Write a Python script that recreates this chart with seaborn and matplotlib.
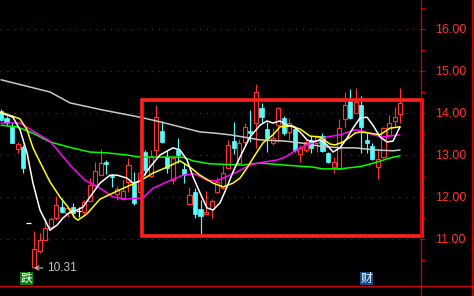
import numpy as np
import pandas as pd
import matplotlib
matplotlib.use("Agg")
import matplotlib.pyplot as plt
import matplotlib.transforms as mtransforms
from matplotlib.lines import Line2D
from matplotlib.patches import Rectangle
import seaborn as sns

# ---------------- data ----------------
opens = [14.05, 13.88, 13.67, 13.14, 13.19, 11.38, 10.33, 10.71, 10.98, 11.29,
         11.50, 11.76, 11.62, 11.76, 11.67, 11.64, 11.90, 12.29, 12.52, 12.83,
         12.50, 12.07, 11.95, 12.36, 12.33, 12.12, 13.07, 12.50, 13.12, 13.57,
         12.95, 12.40, 13.12, 12.67, 11.83, 12.12, 11.71, 11.60, 11.71, 12.12,
         12.21, 12.69, 13.33, 12.81, 13.31, 13.57, 13.76, 14.12, 13.62, 13.29,
         13.71, 13.88, 13.55, 13.62, 13.02, 13.12, 13.36, 13.29, 13.45, 13.05,
         12.71, 12.67, 13.86, 14.29, 14.00, 14.19, 13.36, 13.21, 12.71, 12.95,
         13.48, 13.81, 13.98]
highs = [14.10, 13.93, 13.79, 13.31, 13.24, 11.38, 11.19, 11.14, 11.50, 11.52,
         12.02, 11.98, 11.79, 11.86, 11.76, 11.93, 12.45, 12.83, 13.14, 12.88,
         12.55, 12.26, 12.43, 12.93, 12.60, 12.64, 13.12, 13.12, 14.19, 13.81,
         13.12, 12.95, 13.40, 12.81, 12.24, 12.21, 11.93, 12.14, 11.95, 12.48,
         12.76, 13.36, 13.79, 13.38, 13.76, 14.07, 14.69, 14.24, 13.79, 13.64,
         14.14, 13.93, 13.88, 13.69, 13.24, 13.38, 13.45, 13.48, 13.52, 13.07,
         12.95, 13.86, 14.50, 14.57, 14.60, 14.40, 13.52, 13.29, 13.12, 13.67,
         13.95, 14.14, 14.60]
lows = [13.81, 13.69, 13.29, 13.05, 12.57, 11.38, 10.31, 10.67, 10.98, 11.24,
        11.45, 11.62, 11.52, 11.52, 11.52, 11.55, 11.90, 12.24, 12.52, 12.55,
        12.24, 11.93, 11.93, 12.12, 11.81, 12.10, 12.52, 12.48, 12.95, 13.29,
        12.57, 12.31, 12.81, 12.33, 11.81, 11.50, 11.12, 11.60, 11.50, 12.10,
        12.19, 12.67, 13.02, 12.76, 13.24, 13.31, 13.17, 13.76, 13.07, 13.24,
        13.31, 13.48, 13.36, 13.07, 12.83, 13.07, 13.05, 13.07, 13.07, 12.81,
        12.57, 12.67, 13.67, 13.86, 14.00, 13.05, 13.05, 12.88, 12.43, 12.93,
        13.45, 13.67, 13.76]
closes = [13.83, 13.76, 13.29, 13.26, 12.69, 11.38, 10.76, 10.98, 11.26, 11.48,
          11.81, 11.64, 11.74, 11.62, 11.67, 11.88, 12.29, 12.62, 12.81, 12.79,
          12.48, 12.19, 12.14, 12.76, 11.86, 12.57, 12.64, 12.95, 13.90, 13.31,
          12.69, 12.93, 13.00, 12.52, 12.05, 11.60, 11.55, 11.64, 11.90, 12.36,
          12.57, 13.24, 13.17, 13.29, 13.67, 13.52, 14.50, 13.90, 13.40, 13.40,
          14.12, 13.52, 13.76, 13.12, 13.17, 13.31, 13.17, 13.43, 13.10, 12.83,
          12.83, 13.64, 14.19, 13.88, 14.26, 13.67, 13.29, 12.90, 12.90, 13.64,
          13.76, 13.90, 14.24]

# moving-average lines: positions in candle-index units and values
ma5_x = [0, 2.16, 3.43, 4.69, 5.77, 7.04, 8.84, 10.10, 11.19, 12.45, 13.71, 14.79,
         16.06, 17.86, 19.66, 20.93, 22.73, 23.81, 25.08, 26.88, 28.68, 31.03,
         32.29, 33.56, 34.64, 35.90, 37.16, 38.25, 39.51, 40.77, 41.86, 43.12,
         44.92, 46.73, 47.99, 49.07, 50.33, 51.60, 52.68, 53.94, 55.20, 56.29,
         57.55, 58.81, 59.90, 61.16, 62.42, 63.50, 64.77, 66.03, 67.11, 68.37,
         69.64, 70.72, 71.98]
ma5_y = [14.00, 13.90, 13.60, 13.05, 12.33, 11.69, 11.21, 11.33, 11.50, 11.64, 11.69,
         11.76, 12.00, 12.33, 12.52, 12.52, 12.45, 12.33, 12.38, 12.71, 13.00, 13.17,
         13.12, 12.88, 12.48, 12.10, 11.74, 11.69, 11.86, 12.24, 12.60, 12.95, 13.43,
         13.71, 13.81, 13.76, 13.81, 13.71, 13.69, 13.55, 13.36, 13.31, 13.36, 13.24,
         13.07, 13.17, 13.40, 13.64, 13.88, 13.90, 13.71, 13.43, 13.31, 13.33, 13.67]

ma10_x = [0, 3.43, 4.69, 5.77, 7.04, 8.84, 10.64, 11.91, 13.35, 13.89, 15.52, 17.86,
          20.93, 23.81, 25.08, 27.42, 29.95, 32.29, 34.10, 35.90, 38.25, 40.05,
          41.86, 43.12, 44.38, 45.82, 47.27, 49.07, 50.33, 52.14, 53.94, 55.75,
          57.55, 59.35, 60.26, 61.70, 63.00, 63.86, 64.77, 66.57, 68.37, 70.18, 71.98]
ma10_y = [14.02, 13.86, 13.60, 13.17, 12.83, 12.36, 12.00, 11.79, 11.50, 11.45, 11.60,
          11.95, 12.14, 12.31, 12.38, 12.57, 12.71, 12.86, 12.71, 12.52, 12.33, 12.24,
          12.33, 12.45, 12.69, 13.00, 13.29, 13.48, 13.67, 13.69, 13.62, 13.45, 13.43,
          13.26, 13.24, 13.31, 13.43, 13.52, 13.55, 13.52, 13.48, 13.64, 13.67]

ma20_x = [0, 3.43, 5.40, 8.84, 12.45, 15.15, 17.86, 20.20, 22.73, 25.62, 27.42, 29.95,
          32.83, 35.00, 37.16, 38.80, 40.05, 42.60, 44.92, 47.27, 49.79, 51.24, 53.94,
          56.29, 58.81, 61.16, 63.86, 65.30, 67.11, 68.90, 71.98]
ma20_y = [13.76, 13.76, 13.60, 13.33, 12.76, 12.40, 12.21, 12.00, 11.95, 11.98, 12.21,
          12.36, 12.52, 12.55, 12.40, 12.38, 12.45, 12.60, 12.76, 12.83, 12.88, 12.95,
          13.17, 13.29, 13.43, 13.48, 13.60, 13.57, 13.48, 13.43, 13.48]

ma60_x = [0, 2.89, 5.77, 8.84, 12.81, 16.06, 19.12, 22.73, 25.08, 32.83, 34.64, 37.71,
          43.66, 46.73, 51.24, 56.29, 58.09, 61.16, 63.86, 65.31, 67.83, 70.18, 71.98]
ma60_y = [13.71, 13.67, 13.52, 13.31, 13.17, 13.07, 13.05, 13.00, 12.95, 12.95, 12.86,
          12.79, 12.76, 12.81, 12.76, 12.71, 12.67, 12.67, 12.71, 12.74, 12.83, 12.93, 12.98]

ma250_x = [0, 8.84, 12.45, 18.40, 25.08, 28.68, 32.29, 35.90, 38.61, 41.31, 43.66,
           46.73, 51.24, 53.94, 57.55, 61.16, 63.86, 67.47, 70.72, 71.98]
ma250_y = [14.79, 14.50, 14.24, 14.07, 13.90, 13.79, 13.67, 13.55, 13.52, 13.48, 13.43,
           13.36, 13.33, 13.29, 13.21, 13.17, 13.17, 13.12, 13.10, 13.12]

price_ticks = [11, 12, 13, 14, 15, 16]
minor_ticks = [10.5, 11.5, 12.5, 13.5, 14.5, 15.5, 16.5]
tick_labels = ["11.00", "12.00", "13.00", "14.00", "15.00", "16.00"]

box_x = [25.35, 76.04]          # highlighted range (index units)
box_y = [11.083, 14.32]         # highlighted range (price)

event_labels = ["跌", "财"]
event_pos = [4.6, 65.9]
event_colors = ["#0b7d0b", "#124c88"]

# ---------------- style ----------------
sns.set_theme(style="dark", rc={"axes.facecolor": "black", "figure.facecolor": "black"})
plt.rcParams['font.family'] = ['Liberation Sans', 'Noto Sans CJK SC', 'DejaVu Sans']

W, H = 474, 296
fig = plt.figure(figsize=(W / 100, H / 100), dpi=100, facecolor="black")
ax = fig.add_axes([0, 10 / H, 421 / W, 286 / H])
ax.set_facecolor("black")
ax.set_xlim(-0.18, 75.77)
ax.set_ylim(9.881, 16.690)
for s in ax.spines.values():
    s.set_visible(False)
ax.grid(False)

RED = "#ff3232"
CYAN = "#54fcfc"

# dotted grid lines
for t in price_ticks:
    ax.axhline(t, color="#b00000", lw=0.9, ls=(0, (1, 4.5)), zorder=1)

# candles
idx = np.arange(len(opens))
bw = 0.74
for i in idx:
    o, h, l, c = opens[i], highs[i], lows[i], closes[i]
    top, bot = max(o, c), min(o, c)
    if c > o:
        ax.vlines(i, top, h, color=RED, lw=0.85, zorder=2)
        ax.vlines(i, l, bot, color=RED, lw=0.85, zorder=2)
        ax.add_patch(Rectangle((i - bw / 2, bot), bw, top - bot, facecolor="black",
                               edgecolor=RED, lw=0.85, zorder=2))
    elif c < o:
        ax.vlines(i, l, h, color=CYAN, lw=0.85, zorder=2)
        ax.add_patch(Rectangle((i - bw / 2, bot), bw, top - bot, facecolor=CYAN,
                               edgecolor=CYAN, lw=0.5, zorder=2))
    else:
        ax.vlines(i, l, h, color="white", lw=0.85, zorder=2)
        ax.hlines(o, i - bw / 2 - 0.1, i + bw / 2 + 0.1, color="white", lw=0.9, zorder=2)

# moving averages via seaborn
frames = []
for name, xs, ys in [("MA250", ma250_x, ma250_y), ("MA60", ma60_x, ma60_y),
                     ("MA20", ma20_x, ma20_y), ("MA10", ma10_x, ma10_y),
                     ("MA5", ma5_x, ma5_y)]:
    frames.append(pd.DataFrame({"idx": xs, "price": ys, "line": name}))
df = pd.concat(frames, ignore_index=True)
palette = {"MA250": "#c8c8c8", "MA60": "#00ff00", "MA20": "#ff00ff",
           "MA10": "#ffff00", "MA5": "#ffffff"}
sns.lineplot(data=df, x="idx", y="price", hue="line", palette=palette,
             estimator=None, sort=True, legend=False, lw=1.1, ax=ax, zorder=3)
ax.set_xlabel("")
ax.set_ylabel("")

# highlight box
ax.add_patch(Rectangle((box_x[0], box_y[0]), box_x[1] - box_x[0], box_y[1] - box_y[0],
                       fill=False, edgecolor="#ff2020", lw=2.6, zorder=5, clip_on=False))

# lowest price annotation
li = int(np.argmin(lows))
ax.annotate(f"{lows[li]:.2f}", xy=(li, lows[li]), xytext=(9.5, 0),
            textcoords="offset points", ha="left", va="center", color="#c4c4c4",
            fontsize=8.6, zorder=6,
            arrowprops=dict(arrowstyle="->,head_length=0.3,head_width=0.18",
                            color="#c4c4c4", lw=0.8, shrinkA=1, shrinkB=0))

# event labels
trans = mtransforms.blended_transform_factory(ax.transData, ax.transAxes)
bwid = 13 / 5.543
for lab, pos, col in zip(event_labels, event_pos, event_colors):
    ax.add_patch(Rectangle((pos - bwid / 2, 1 / 286), bwid, 13 / 286, transform=trans,
                           facecolor=col, edgecolor="none", zorder=6, clip_on=False))
    ax.text(pos, 7.5 / 286, lab, transform=trans, ha="center", va="center",
            color="white", fontsize=8.5, family=["Noto Sans CJK SC", "DejaVu Sans"],
            zorder=7)

# right price axis
ax.yaxis.tick_right()
ax.set_yticks(price_ticks)
ax.set_yticklabels(tick_labels)
ax.set_yticks(minor_ticks, minor=True)
ax.set_xticks([])
ax.tick_params(axis="y", which="both", direction="out", length=3, width=0.8,
               color="#d00000", labelcolor=RED, labelsize=9, pad=7,
               right=True, left=False)

# frame lines
fig.add_artist(Line2D([0, 1], [10 / H, 10 / H], transform=fig.transFigure,
                      color="#d00000", lw=0.9))
fig.add_artist(Line2D([421 / W, 421 / W], [0, 1], transform=fig.transFigure,
                      color="#d00000", lw=0.9))
fig.add_artist(Line2D([471.5 / W, 471.5 / W], [0, 1], transform=fig.transFigure,
                      color="#d00000", lw=0.9))

fig.savefig("out.png", dpi=100, facecolor="black")
